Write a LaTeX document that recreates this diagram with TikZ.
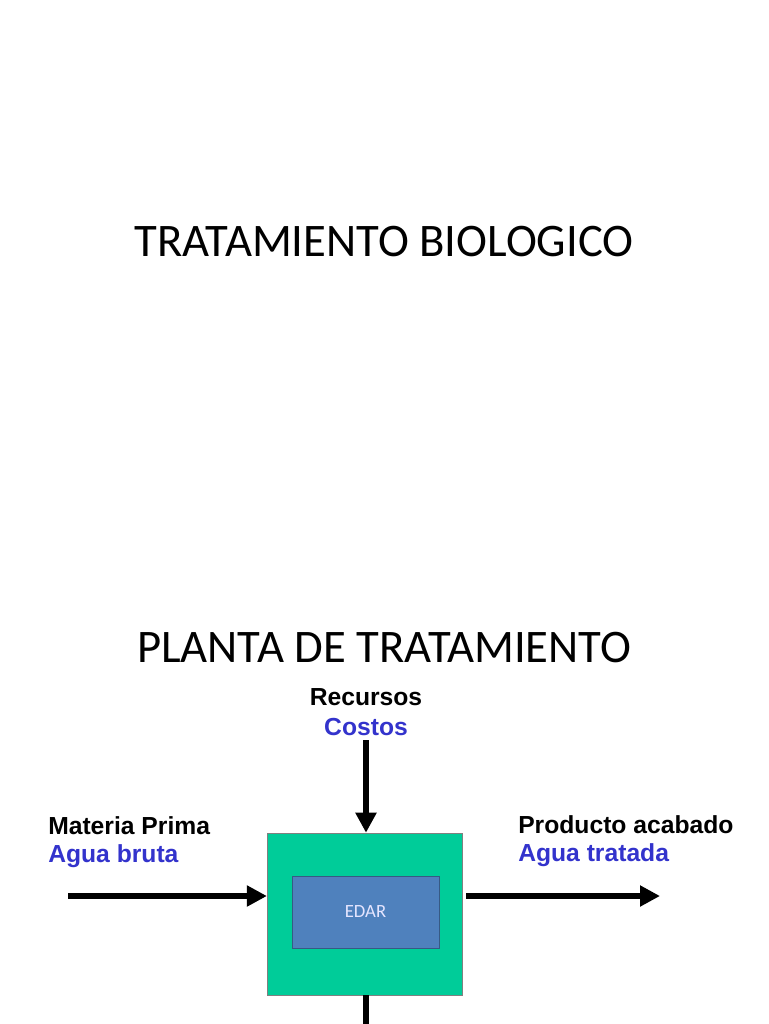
\documentclass[tikz,border=0pt]{standalone}
\usepackage{fontspec}
\setmainfont{Carlito}
\newfontfamily\arialfont{Liberation Sans}
\usetikzlibrary{arrows.meta}
\definecolor{boxgreen}{HTML}{00CC99}
\definecolor{edarblue}{HTML}{4F81BD}
\definecolor{labelblue}{HTML}{3333CC}
\tikzset{
  title/.style={font=\fontsize{35}{40}\selectfont},
  lbl/.style={font=\arialfont\bfseries\fontsize{18.5}{22}\selectfont, inner sep=0pt},
  flow/.style={line width=3.8pt, -{Triangle[length=15pt,width=15pt]}}
}
\begin{document}
\begin{tikzpicture}[x=0.75pt,y=-0.75pt]
  \useasboundingbox (0,0) rectangle (768,1024);
  \node[title] (t1) at (384,242) {TRATAMIENTO BIOLOGICO};
  \node[title] (t2) at (384,648) {PLANTA DE TRATAMIENTO};

  % plant
  \node[draw=gray, fill=boxgreen, minimum width=146pt, minimum height=121.5pt, inner sep=0pt] (plant) at (364.5,914) {};
  \node[draw=edarblue!70!black, fill=edarblue, minimum width=110pt, minimum height=54pt,
        text=white!90!blue, font=\fontsize{14}{16}\selectfont] (edar) at (365.5,912) {EDAR};

  % labels
  \node[lbl] (rec) at (366,697) {Recursos};
  \node[lbl, text=labelblue] (cost) at (366,727) {Costos};
  \node[lbl, anchor=west] (mat) at (48,826) {Materia Prima};
  \node[lbl, anchor=west, text=labelblue] (bruta) at (48,856) {Agua bruta};
  \node[lbl, anchor=west] (prod) at (518,825) {Producto acabado};
  \node[lbl, anchor=west, text=labelblue] (trat) at (518,855) {Agua tratada};

  % flows
  \coordinate (inL) at (68,896);
  \coordinate (outR) at (660,896);
  \coordinate (topS) at (366,740);
  \coordinate (botE) at (366,1024);
  \draw[flow] (topS) -- (topS |- plant.north);
  \draw[flow] (inL) -- (inL -| plant.west);
  \draw[flow] ([xshift=3pt]plant.east |- outR) -- (outR);
  \draw[line width=3.8pt] (plant.south -| botE) -- (botE);
\end{tikzpicture}
\end{document}
